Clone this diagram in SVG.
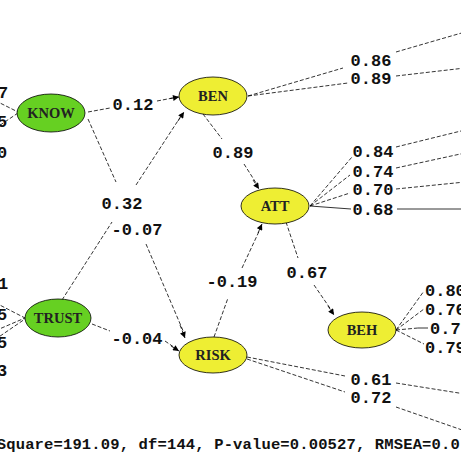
<svg xmlns="http://www.w3.org/2000/svg" width="461" height="461" viewBox="0 0 461 461">
<defs>
<marker id="ah" viewBox="0 0 10 10" refX="10" refY="5" markerWidth="8" markerHeight="6" orient="auto" markerUnits="userSpaceOnUse">
<path d="M0,0 L10,5 L0,10 z" fill="#000"/>
</marker>
<style>
.c{fill:none;stroke:#000;stroke-width:0.8;stroke-dasharray:4 2}
.a{marker-end:url(#ah)}
.g{fill:#66d022;stroke:#000;stroke-width:0.8}
.y{fill:#eeee33;stroke:#000;stroke-width:0.8}
.n{font-family:"Liberation Serif",serif;font-weight:bold;font-size:14.5px;fill:#222;text-anchor:middle}
.l{font-family:"Liberation Mono",monospace;font-weight:bold;font-size:17px;fill:#111;text-anchor:middle}
.ls{font-family:"Liberation Mono",monospace;font-weight:bold;font-size:17px;fill:#111}
.b{font-family:"Liberation Mono",monospace;font-weight:bold;font-size:15.5px;fill:#111;letter-spacing:0.15px}
</style>
</defs>
<rect width="461" height="461" fill="#fff"/>
<g id="connectors">
<path class="c" d="M-10,98 L18,112 M-10,132 L18,113 M-10,300 L25,318 M-10,333 L25,318 M-10,343 L25,319"/>
<path class="c" d="M88,112 L110,108 M157,101 L178,97" />
<path class="c a" d="M170,98.5 L179,97"/>
<path class="c" d="M88,119 L116,182 M146,244 L184,333"/>
<path class="c a" d="M180,325 L185,338"/>
<path class="c" d="M62,300 L112,222 M136,185 L183,113"/>
<path class="c a" d="M178,121 L184,112"/>
<path class="c" d="M92,324 L110,331 M165,341 L178,350"/>
<path class="c a" d="M171,346 L179,351"/>
<path class="c" d="M203,114 L222,139 M244,164 L258,186"/>
<path class="c a" d="M253,180 L259,189"/>
<path class="c" d="M214,337 L228,298 M242,268 L262,225"/>
<path class="c a" d="M258,233 L262,224"/>
<path class="c" d="M286,222 L298,258 M314,285 L334,314"/>
<path class="c a" d="M328,306 L334,315"/>
<path class="c" d="M248,96 L343,68 M396,52 L465,32 M248,96 L348,83 M396,76 L465,68"/>
<path class="c" d="M310,206 L352,157 M396,147 L465,130 M310,206 L350,175 M396,168 L465,153 M310,206 L350,193 M396,189 L465,182"/>
<path fill="none" stroke="#000" stroke-width="0.8" d="M310,206 L351,209 M397,209 L465,209"/>
<path class="c" d="M396,330 L424,291 M396,330 L424,309 M396,330 L424,344"/>
<path fill="none" stroke="#000" stroke-width="0.8" d="M418,328 L428,328"/>
<path class="c" d="M396,330 L418,328"/>
<path class="c" d="M247,357 L345,376 M396,383 L465,394 M247,359 L345,392 M396,407 L465,431"/>
</g>
<g id="KNOW"><ellipse class="g" cx="51" cy="113" rx="34" ry="19"/><text class="n" x="51" y="118">KNOW</text></g>
<g id="TRUST"><ellipse class="g" cx="58" cy="318" rx="33" ry="19"/><text class="n" x="58" y="323">TRUST</text></g>
<g id="BEN"><ellipse class="y" cx="213" cy="96" rx="34" ry="19"/><text class="n" x="213" y="101">BEN</text></g>
<g id="ATT"><ellipse class="y" cx="275" cy="206" rx="34" ry="18"/><text class="n" x="275" y="211">ATT</text></g>
<g id="BEH"><ellipse class="y" cx="362" cy="330" rx="34" ry="18"/><text class="n" x="362" y="335">BEH</text></g>
<g id="RISK"><ellipse class="y" cx="213" cy="355" rx="34" ry="18"/><text class="n" x="213" y="360">RISK</text></g>
<g id="labels">
<text class="l" x="133" y="110">0.12</text>
<text class="l" x="233" y="158">0.89</text>
<text class="l" x="122" y="209">0.32</text>
<text class="l" x="137" y="235">-0.07</text>
<text class="l" x="232" y="287">-0.19</text>
<text class="l" x="307" y="278">0.67</text>
<text class="l" x="137" y="344">-0.04</text>
<text class="l" x="371" y="66">0.86</text>
<text class="l" x="371" y="84">0.89</text>
<text class="l" x="373" y="157">0.84</text>
<text class="l" x="373" y="177">0.74</text>
<text class="l" x="373" y="195">0.70</text>
<text class="l" x="373" y="215">0.68</text>
<text class="ls" x="425" y="296">0.80</text>
<text class="ls" x="425" y="315">0.76</text>
<text class="ls" x="430" y="334">0.77</text>
<text class="ls" x="425" y="353">0.79</text>
<text class="l" x="371" y="385">0.61</text>
<text class="l" x="371" y="403">0.72</text>
<text class="ls" x="-2" y="98">7</text>
<text class="ls" x="-3" y="127">5</text>
<text class="ls" x="-3" y="158">0</text>
<text class="ls" x="-2" y="289">1</text>
<text class="ls" x="-3" y="320">5</text>
<text class="ls" x="-3" y="348">5</text>
<text class="ls" x="-3" y="376">3</text>
<text class="b" x="-41" y="449">Chi-Square=191.09, df=144, P-value=0.00527, RMSEA=0.0</text>
</g>
</svg>
